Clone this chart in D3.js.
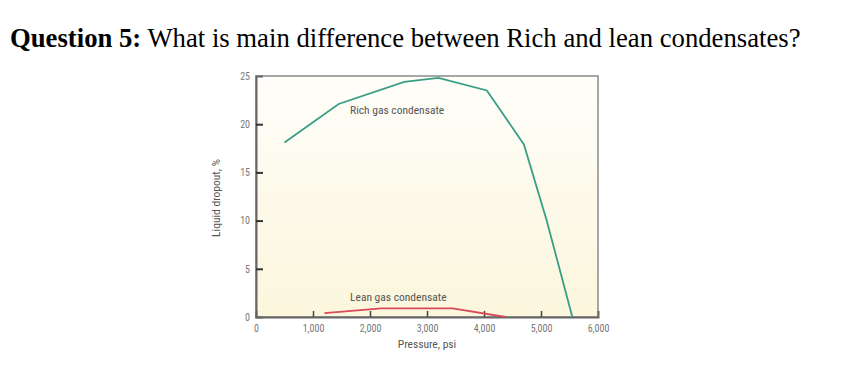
<!DOCTYPE html>
<html>
<head>
<meta charset="utf-8">
<title>Liquid dropout</title>
<style>
  body { margin: 0; background: #fff; }
  .title { font-family: "Liberation Serif", "Times New Roman", serif; font-size: 26.7px; fill: #000; }
  .lab { font-family: "Liberation Sans Narrow", "Roboto Condensed", "Liberation Sans", sans-serif; fill: #555; }
</style>
</head>
<body>
<div id="chart"></div>
<script src="https://cdn.jsdelivr.net/npm/d3@7"></script>
<script>
// pressure (psi) and liquid dropout (%)
var richP = [500, 1450, 2600, 3200, 4050, 4700, 5100, 5550];
var richV = [18.1, 22.1, 24.4, 24.8, 23.5, 17.9, 10, 0];
var leanP = [1200, 2200, 3450, 4380];
var leanV = [0.4, 0.9, 0.9, 0];
var xTicks = [0, 1000, 2000, 3000, 4000, 5000, 6000];
var yTicks = [0, 5, 10, 15, 20, 25];

var W = 855, H = 376;
var m = {left: 256, top: 76, right: 257, bottom: 59};
var gw = W - m.left - m.right, gh = H - m.top - m.bottom;

var svg = d3.select('#chart').append('svg').attr('width', W).attr('height', H);

svg.append('text').attr('class', 'title').attr('x', 10).attr('y', 47)
  .html('<tspan font-weight="bold">Question 5:</tspan> What is main difference between Rich and lean condensates?');

var defs = svg.append('defs');
var grad = defs.append('linearGradient').attr('id', 'bg').attr('x1', 0).attr('y1', 0).attr('x2', 0).attr('y2', 1);
grad.append('stop').attr('offset', '0%').attr('stop-color', '#fffefa');
grad.append('stop').attr('offset', '100%').attr('stop-color', '#fbf6dc');

var g = svg.append('g').attr('transform', `translate(${m.left},${m.top})`);

var x = d3.scaleLinear().domain([0, 6000]).range([0, gw]);
var y = d3.scaleLinear().domain([0, 25]).range([gh, 0]);

g.append('rect').attr('width', gw).attr('height', gh).attr('fill', 'url(#bg)')
  .attr('stroke', '#8a8a8a').attr('stroke-width', 1.5);

// axes, ticks pointing inward
var xAxis = d3.axisBottom(x).tickValues(xTicks).tickSize(-6).tickPadding(10)
  .tickFormat(d3.format(','));
var yAxis = d3.axisLeft(y).tickValues(yTicks).tickSize(-7).tickPadding(6);

var gx = g.append('g').attr('transform', `translate(0,${gh})`).call(xAxis);
var gy = g.append('g').call(yAxis);
gx.select('.domain').attr('stroke', '#666').attr('stroke-width', 2);
gy.select('.domain').attr('stroke', '#666').attr('stroke-width', 2);
gx.selectAll('.tick line').attr('stroke', '#444').attr('stroke-width', 1.5)
  .attr('opacity', d => (d === 0 || d === 6000) ? 0 : 1);
gy.selectAll('.tick line').attr('stroke', '#333').attr('stroke-width', 2)
  .attr('opacity', d => (d === 0 || d === 25) ? 0 : 1);
g.selectAll('.tick text').attr('class', 'lab').attr('font-size', 10).style('fill', '#777');
gx.selectAll('.tick text').attr('dy', '0.5em');

var line = d3.line().x(d => x(d[0])).y(d => y(d[1]));

g.append('path').datum(d3.zip(richP, richV)).attr('d', line)
  .attr('fill', 'none').attr('stroke', '#3a9e86').attr('stroke-width', 1.8);
g.append('path').datum(d3.zip(leanP, leanV)).attr('d', line)
  .attr('fill', 'none').attr('stroke', '#d64a5a').attr('stroke-width', 1.8);

g.append('text').attr('class', 'lab').attr('font-size', 11.5)
  .attr('x', x(1650)).attr('y', y(21.1)).text('Rich gas condensate');
g.append('text').attr('class', 'lab').attr('font-size', 11.5)
  .attr('x', x(1650)).attr('y', y(1.7)).text('Lean gas condensate');

svg.append('text').attr('class', 'lab').attr('font-size', 11.5)
  .attr('x', m.left + x(3000)).attr('y', 348).attr('text-anchor', 'middle')
  .text('Pressure, psi');
svg.append('text').attr('class', 'lab').attr('font-size', 11.5)
  .attr('transform', `translate(220,198) rotate(-90)`).attr('text-anchor', 'middle')
  .text('Liquid dropout, %');
</script>
</body>
</html>
